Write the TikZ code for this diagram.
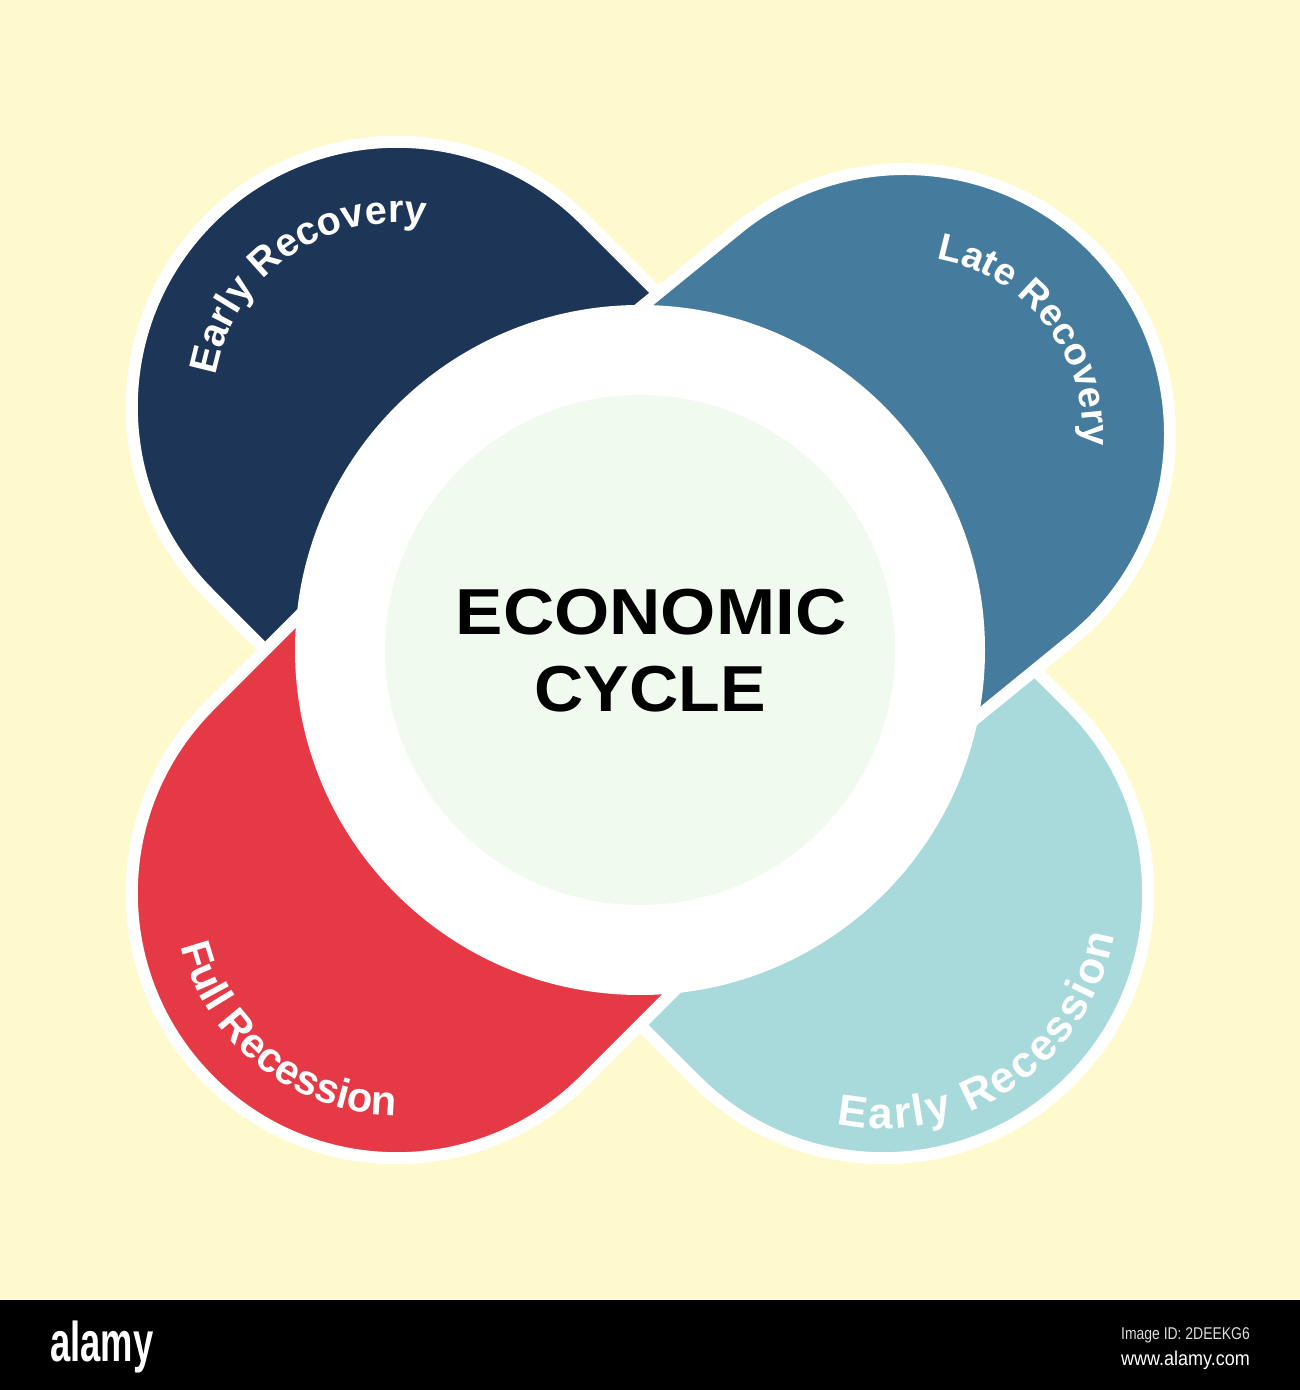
\documentclass[tikz,border=0pt]{standalone}
\usepackage{fontspec}
\setmainfont{Liberation Sans}
\usetikzlibrary{decorations.text}
\definecolor{bgcream}{HTML}{FFFACD}
\definecolor{pnavy}{HTML}{1D3557}
\definecolor{psteel}{HTML}{457B9D}
\definecolor{pred}{HTML}{E63946}
\definecolor{pteal}{HTML}{A8DADC}
\definecolor{ppale}{HTML}{F1FAEE}
\definecolor{idgray}{HTML}{DDDDDD}
\newcommand\drawpetal[4]{%
  \begin{scope}[shift={(#1,#2)}, rotate=#3]
    \path[petal=#4] (-344,-265) -- (0,-265) arc[start angle=-90,end angle=90,radius=265] -- (-344,265) -- cycle;
  \end{scope}}
\begin{document}
\begin{tikzpicture}[x=1pt,y=1pt,
  petal/.style={fill=#1, draw=white, line width=12pt, line join=miter},
  lbl/.style n args={2}{decorate, decoration={text along path, text align=center, text color=white, text={|\bfseries\fontsize{#2}{#2}\selectfont|#1}}},
  lblfit/.style n args={2}{decorate, decoration={text along path, text align=fit to path, text color=white, text={|\bfseries\fontsize{#2}{#2}\selectfont|#1}}},
  title/.style={anchor=base, font=\bfseries\fontsize{65}{65}\selectfont, text=black, inner sep=0pt}]
\useasboundingbox (0,0) rectangle (1300,1390);
\fill[bgcream] (0,90) rectangle (1300,1390);
\fill[black] (0,0) rectangle (1300,90);
% petals (draw order matters)
\drawpetal{396.8}{983.2}{135}{pnavy}
\drawpetal{883.2}{496.8}{-45}{pteal}
\drawpetal{396.8}{496.8}{225}{pred}
\drawpetal{905}{956}{39.2}{psteel}
% centre
\node[circle, fill=white, minimum size=690pt, inner sep=0pt] (ring) at (640,740) {};
\node[circle, fill=ppale, minimum size=510pt, inner sep=0pt] (core) at (640,740) {};
\node[title] (t1) at (651,755) {\scalebox{1.093}[1]{ECONOMIC}};
\node[title] (t2) at (650,678) {\scalebox{1.05}[1]{CYCLE}};
% labels
\path[lbl={Early Recovery}{39.6}] (396.8,983.2) ++(172.6:184) arc[start angle=172.6, end angle=78.6, radius=184];
\path[lbl={Late Recovery}{38}] (905,956) ++(80:178) arc[start angle=80, end angle=-4, radius=178];
\path[lbl={Full Recession}{41.8}] (396.8,496.8) ++(186.8:222) arc[start angle=186.8, end angle=276.8, radius=222];
\path[lblfit={Early Recession}{44}] (883.2,496.8) ++(258.6:235) arc[start angle=258.6, end angle=349.8, radius=235];
% bottom bar
\node[anchor=base west, inner sep=0pt, text=white, font=\bfseries\fontsize{56}{56}\selectfont] (logo) at (50,28) {\scalebox{0.65}[1]{alamy}};
\node[anchor=base east, inner sep=0pt, text=idgray, font=\fontsize{17}{17}\selectfont] (imgid) at (1250,50) {\scalebox{0.82}[1]{Image ID: 2DEEKG6}};
\node[anchor=base east, inner sep=0pt, text=white, font=\fontsize{20}{20}\selectfont] (www) at (1250,24) {\scalebox{0.9}[1]{www.alamy.com}};
\end{tikzpicture}
\end{document}
